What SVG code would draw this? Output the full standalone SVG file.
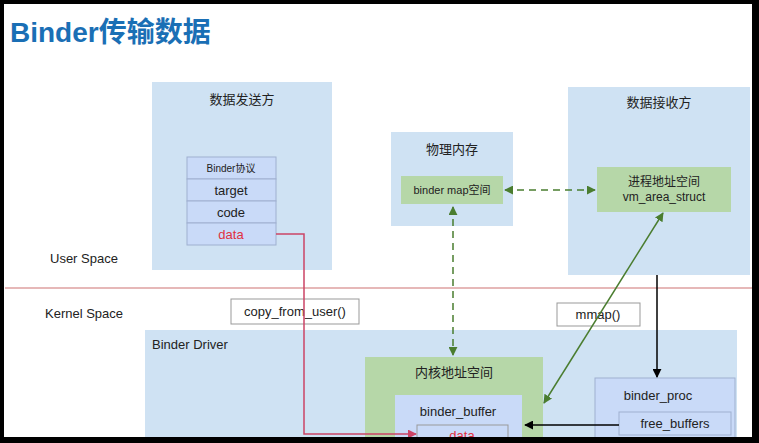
<svg xmlns="http://www.w3.org/2000/svg" width="759" height="443" viewBox="0 0 759 443">
<defs>
<style>
.t{font-family:"Liberation Sans","Noto Sans CJK SC",sans-serif;fill:#222;font-size:13px}
.c{text-anchor:middle}
.blue{fill:#cfe2f3}
.grn{fill:#b6d7a8}
.row{fill:#c9daf8;stroke:#9fb0d0;stroke-width:1}
.wb{fill:#fff;stroke:#999;stroke-width:1}
</style>
<marker id="ag" viewBox="0 0 10 10" refX="9" refY="5" markerWidth="6" markerHeight="6" orient="auto-start-reverse"><path d="M0,0L10,5L0,10z" fill="#4a7d2f"/></marker>
<marker id="ak" viewBox="0 0 10 10" refX="9" refY="5" markerWidth="6" markerHeight="6" orient="auto-start-reverse"><path d="M0,0L10,5L0,10z" fill="#000"/></marker>
<marker id="ar" viewBox="0 0 10 10" refX="9" refY="5" markerWidth="6" markerHeight="6" orient="auto"><path d="M0,0L10,5L0,10z" fill="#cc4466"/></marker>
</defs>
<rect width="759" height="443" fill="#000"/>
<rect x="4" y="4" width="748" height="433" fill="#fff"/>
<text x="10" y="42" style="font-family:'Liberation Sans','Noto Sans CJK SC',sans-serif;font-weight:bold;font-size:28px;fill:#1a6fb5">Binder传输数据</text>
<line x1="5" y1="288" x2="752" y2="288" stroke="#e6b8b8" stroke-width="2"/>
<text class="t" x="50" y="263">User Space</text>
<text class="t" x="45" y="318">Kernel Space</text>
<g id="sender">
<rect class="blue" x="152" y="82" width="180" height="188"/>
<text class="t c" x="242" y="104">数据发送方</text>
<rect class="row" x="187" y="157" width="89" height="22"/>
<text class="t c" x="231" y="172" style="font-size:10px">Binder协议</text>
<rect class="row" x="187" y="179" width="89" height="22"/>
<text class="t c" x="231" y="195">target</text>
<rect class="row" x="187" y="201" width="89" height="22"/>
<text class="t c" x="231" y="217">code</text>
<rect class="row" x="187" y="223" width="89" height="22"/>
<text class="t c" x="231" y="239" style="fill:#e03040">data</text>
</g>
<g id="phys">
<rect class="blue" x="391" y="132" width="122" height="94"/>
<text class="t c" x="452" y="154">物理内存</text>
<rect class="grn" x="401" y="176" width="102" height="28"/>
<text class="t c" x="452" y="194" style="font-size:11px">binder map空间</text>
</g>
<g id="receiver">
<rect class="blue" x="568" y="87" width="182" height="188"/>
<text class="t c" x="659" y="107">数据接收方</text>
<rect class="grn" x="597" y="167" width="134" height="45"/>
<text class="t c" x="664" y="186" style="font-size:12px">进程地址空间</text>
<text class="t c" x="664" y="201" style="font-size:12px">vm_area_struct</text>
</g>
<g id="copy"><rect class="wb" x="231" y="299" width="128" height="25"/><text class="t c" x="295" y="316">copy_from_user()</text></g>
<g id="mmap"><rect class="wb" x="557" y="303" width="83" height="23"/><text class="t c" x="598" y="319">mmap()</text></g>
<g id="driver">
<rect class="blue" x="145" y="330" width="592" height="113"/>
<text class="t" x="152" y="349">Binder Driver</text>
</g>
<g id="kernel">
<rect class="grn" x="365" y="357" width="178" height="86"/>
<text class="t c" x="454" y="377">内核地址空间</text>
<rect class="row" x="395" y="395" width="127" height="48" style="stroke:none"/>
<text class="t c" x="458" y="416">binder_buffer</text>
<rect class="wb" x="417" y="425" width="91" height="18" style="fill:#c9daf8"/>
<text class="t c" x="462" y="440" style="fill:#e03040">data</text>
</g>
<g id="proc">
<rect class="row" x="595" y="378" width="140" height="65"/>
<text class="t c" x="658" y="400">binder_proc</text>
<rect class="row" x="619" y="412" width="112" height="23"/>
<text class="t c" x="675" y="428">free_buffers</text>
</g>
<g id="connectors" fill="none">
<line x1="505" y1="190" x2="595" y2="190" stroke="#4a7d2f" stroke-width="1.5" stroke-dasharray="7,5" marker-start="url(#ag)" marker-end="url(#ag)"/>
<line x1="453" y1="207" x2="453" y2="355" stroke="#4a7d2f" stroke-width="1.5" stroke-dasharray="7,5" marker-start="url(#ag)" marker-end="url(#ag)"/>
<line x1="544" y1="403" x2="663" y2="213" stroke="#4a7d2f" stroke-width="1.5" marker-start="url(#ag)" marker-end="url(#ag)"/>
<line x1="657" y1="275" x2="657" y2="377" stroke="#000" stroke-width="1.5" marker-end="url(#ak)"/>
<line x1="619" y1="425" x2="525" y2="425" stroke="#000" stroke-width="1.5" marker-end="url(#ak)"/>
<polyline points="276,234 304,234 304,434 416,434" stroke="#cc4466" stroke-width="1.5" marker-end="url(#ar)"/>
</g>
<rect x="0" y="437" width="759" height="6" fill="#000"/>
<rect x="752" y="0" width="7" height="443" fill="#000"/>
</svg>
